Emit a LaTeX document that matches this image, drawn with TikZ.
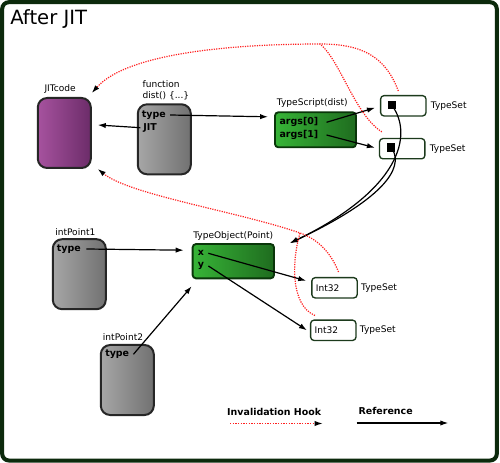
\documentclass[tikz,border=0pt]{standalone}
\usepackage{fontspec}
\setmainfont{DejaVu Sans}
\usetikzlibrary{arrows.meta}

\definecolor{framegreen}{HTML}{0C2A0C}
\definecolor{purpleL}{HTML}{A6529E}
\definecolor{purpleR}{HTML}{6C2C69}
\definecolor{grayL}{HTML}{A6A6A6}
\definecolor{grayR}{HTML}{717171}
\definecolor{greenL}{HTML}{37B437}
\definecolor{greenR}{HTML}{1F6C1F}
\definecolor{greenEdge}{HTML}{0A360A}
\definecolor{setEdge}{HTML}{1C3A1C}
\definecolor{hookred}{HTML}{FF2020}

\tikzset{
    objbox/.style={draw=black!85, line width=1.5pt, rounded corners=7pt, minimum width=39.75pt, minimum height=52.5pt, inner sep=0},
    graybox/.style={objbox, left color=grayL, right color=grayR},
    greenbox/.style={draw=greenEdge, line width=1.4pt, rounded corners=2.5pt, left color=greenL, right color=greenR, inner sep=0},
    setbox/.style={draw=setEdge, line width=1pt, fill=white, rounded corners=2.5pt, minimum width=34pt, minimum height=15.2pt, inner sep=0},
    lbl/.style={font=\fontsize{6.8}{8.4}\selectfont, inner sep=0, anchor=west},
    fld/.style={font=\fontsize{7.1}{8.4}\selectfont\bfseries, inner sep=0, anchor=west},
    ref/.style={line width=0.9pt, -{Latex[length=6pt,width=4pt]}},
    hook/.style={draw=hookred, line width=0.9pt, dash pattern=on 0.9pt off 0.9pt},
    hookarrow/.style={hook, -{Latex[black,length=6pt,width=4pt]}},
}

\begin{document}
\begin{tikzpicture}[x=0.75pt, y=-0.75pt]
        \useasboundingbox (0,0) rectangle (500,463);
        \draw[framegreen, line width=3pt, rounded corners=5pt, fill=white] (2.2,2.2) rectangle (496.8,460.5);
        \node[anchor=west, inner sep=0, font=\fontsize{14.7}{16}\selectfont] (title) at (10,19.5) {After JIT};

        % objects
        \node[objbox, left color=purpleL, right color=purpleR] (jit) at (64.3,133) {};
        \node[graybox] (func) at (164.3,139.3) {};
        \node[graybox] (ip1) at (79.3,274.2) {};
        \node[graybox] (ip2) at (127.3,380) {};
        \node[greenbox, minimum width=60.75pt, minimum height=26.25pt] (tscript) at (315.5,129.8) {};
        \node[greenbox, minimum width=61pt, minimum height=25.7pt] (tobj) at (233.3,261.2) {};

        \node[lbl] (jitlbl) at (44.3,89.3) {JITcode};
        \node[lbl, align=left] (funclbl) at (142.3,90.5) {function\\dist() \{...\}};
        \node[lbl] (tscriptlbl) at (276.7,103) {TypeScript(dist)};
        \node[lbl] (tobjlbl) at (193,236) {TypeObject(Point)};
        \node[lbl] (ip1lbl) at (55,231.7) {intPoint1};
        \node[lbl] (ip2lbl) at (102.7,336.7) {intPoint2};

        \node[fld] (ftype) at (141.7,115) {type};
        \node[fld] (fjit) at (143,127.7) {JIT};
        \node[fld] (arg0) at (279.3,122.3) {args[0]};
        \node[fld] (arg1) at (279.3,135) {args[1]};
        \node[fld] (fx) at (197.7,253.3) {x};
        \node[fld] (fy) at (197.7,266) {y};
        \node[fld] (ip1type) at (56.7,249) {type};
        \node[fld] (ip2type) at (105,354.3) {type};

        % type sets
        \foreach \n/\x/\y in {ts1/403.3/105.8, ts2/402.2/148.7} {
            \node[setbox] (\n) at (\x,\y) {};
            \node[lbl] (\n lbl) at ([xshift=3pt]\n.east) {TypeSet};
        }
        \node[fill=black, minimum size=6.2pt, inner sep=0] (sq1) at (391.8,105.2) {};
        \node[fill=black, minimum size=6.2pt, inner sep=0] (sq2) at (391.2,147.5) {};
        \foreach \n/\x/\y in {i1/334.5/287.8, i2/333.3/330.3} {
            \node[setbox] (\n) at (\x,\y) {};
            \node[lbl] (\n txt) at ([xshift=3.3pt]\n.west) {Int32};
            \node[lbl] (\n lbl) at ([xshift=2.3pt]\n.east) {TypeSet};
        }

        % references
        \draw[ref] ([xshift=3pt]ftype.east) -- ([shift={(-6,-13)}]tscript.west);
        \draw[ref] ([xshift=-2pt]fjit.west) -- ([shift={(6,-8)}]jit.east);
        \draw[ref] ([xshift=6pt]arg0.east) -- ([shift={(-5,2)}]ts1.west);
        \draw[ref] ([xshift=6pt]arg1.east) -- ([shift={(-4,-1)}]ts2.west);
        \draw[ref] (sq1.center) .. controls (414,135) and (400,190) .. ([shift={(15,0)}]tobj.north east);
        \draw[ref] (sq2.center) .. controls (402,162) and (398,192) .. ([shift={(15,0)}]tobj.north east);
        \draw[ref] ([xshift=4pt]ip1type.east) -- ([shift={(-8,-11)}]tobj.west);
        \draw[ref] ([xshift=3pt]ip2type.east) -- ([shift={(0,7)}]tobj.south west);
        \draw[ref] ([xshift=3pt]fx.east) -- ([shift={(-5,-7)}]i1.west);
        \draw[ref] ([xshift=3pt]fy.east) -- ([shift={(-3,0)}]i2.west);

        % invalidation hooks
        \draw[hookarrow] ([shift={(3,-6)}]ts2.north west) .. controls (355,115) and (340,60) .. (320,44)
            .. controls (250,44) and (130,50) .. ([shift={(0,-4)}]jit.north east);
        \draw[hook] ([shift={(-5,-4)}]ts1.north) .. controls (385,55) and (360,44) .. (320,44);
        \draw[hookarrow] ([shift={(4,-5)}]i1.north) .. controls (330,250) and (315,238) .. (300,233)
            .. controls (240,212) and (130,195) .. ([shift={(6,0)}]jit.south east);
        \draw[hook] ([shift={(5,-4)}]i2.north west) .. controls (290,305) and (292,260) .. (300,233);

        % legend
        \node[fld, anchor=center] (hooklbl) at (274.2,411.7) {Invalidation Hook};
        \node[fld, anchor=center] (reflbl) at (385.7,411) {Reference};
        \coordinate (hooka) at (230,423.5);
        \coordinate (hookb) at (322.7,423.5);
        \coordinate (refa) at (356.7,423);
        \coordinate (refb) at (448.3,423);
        \draw[hook, line width=1.1pt, dash pattern=on 1.1pt off 0.9pt, shorten >=4pt] (hooka) -- (hookb);
        \draw[-{Latex[length=6pt,width=4pt]}, line width=0.9pt] ([xshift=-5pt]hookb) -- (hookb);
        \draw[ref] (refa) -- (refb);
\end{tikzpicture}
\end{document}
